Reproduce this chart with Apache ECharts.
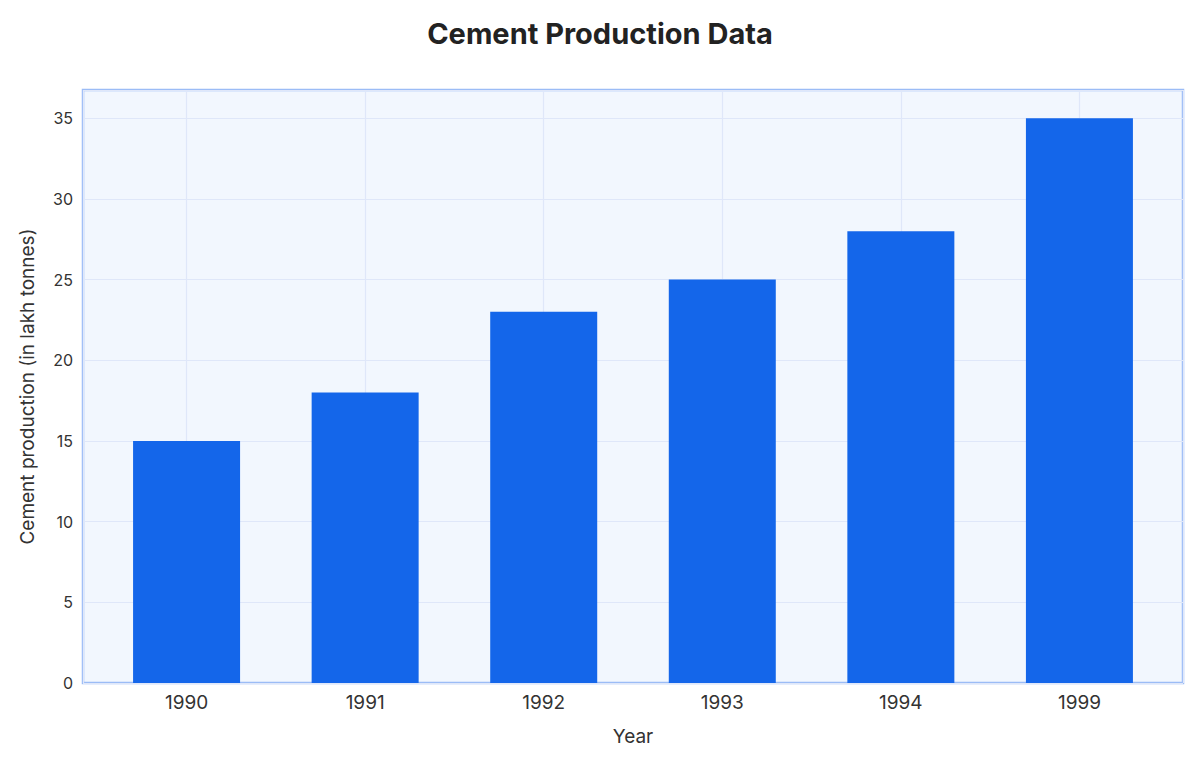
<!DOCTYPE html>
<html>
<head>
<meta charset="utf-8">
<title>Cement Production Data</title>
<script src="https://cdn.jsdelivr.net/npm/echarts@6/dist/echarts.min.js"></script>
<style>
  html, body { margin: 0; padding: 0; background: #fff; }
  #chart { width: 1200px; height: 765px; }
</style>
</head>
<body>
<div id="chart"></div>
<script>
const years = ["1990", "1991", "1992", "1993", "1994", "1999"];
const production = [15, 18, 23, 25, 28, 35];

const font = "Inter, 'Noto Sans', sans-serif";
const gridLine = { show: true, lineStyle: { color: "#dfe7f9", width: 1.2 } };

const chart = echarts.init(document.getElementById("chart"), null, { renderer: "svg" });

chart.setOption({
  animation: false,
  title: {
    text: "Cement Production Data",
    left: "center",
    top: 14,
    textStyle: { fontFamily: font, fontSize: 29, fontWeight: "bold", color: "#222" }
  },
  grid: {
    left: 83, right: 17, top: 90, bottom: 82,
    show: true,
    backgroundColor: "#f2f7fe",
    borderColor: "#9bbcf6",
    borderWidth: 2.5
  },
  xAxis: {
    type: "value",
    // matplotlib-like margins around the bars
    min: -0.58,
    max: 5.58,
    minInterval: 1,
    maxInterval: 1,
    name: "Year",
    nameLocation: "middle",
    nameGap: 44,
    nameTextStyle: { fontFamily: font, fontSize: 19, color: "#333" },
    axisLine: { show: false },
    axisTick: { show: false },
    axisLabel: {
      fontFamily: font, fontSize: 19, color: "#333", margin: 10,
      showMinLabel: false, showMaxLabel: false,
      formatter: v => Number.isInteger(v) && years[v] !== undefined ? years[v] : ""
    },
    splitLine: gridLine
  },
  yAxis: {
    type: "value",
    min: 0,
    max: 36.75,
    interval: 5,
    name: "Cement production (in lakh tonnes)",
    nameLocation: "middle",
    nameGap: 46,
    nameTextStyle: { fontFamily: font, fontSize: 19, color: "#333" },
    axisLine: { show: false },
    axisTick: { show: false },
    axisLabel: {
      fontFamily: font, fontSize: 16, color: "#333", margin: 10,
      showMaxLabel: false
    },
    splitLine: gridLine
  },
  series: [{
    type: "bar",
    data: production.map((v, i) => [i, v]),
    barWidth: 107,
    itemStyle: { color: "#1466ea" }
  }]
});
</script>
</body>
</html>
